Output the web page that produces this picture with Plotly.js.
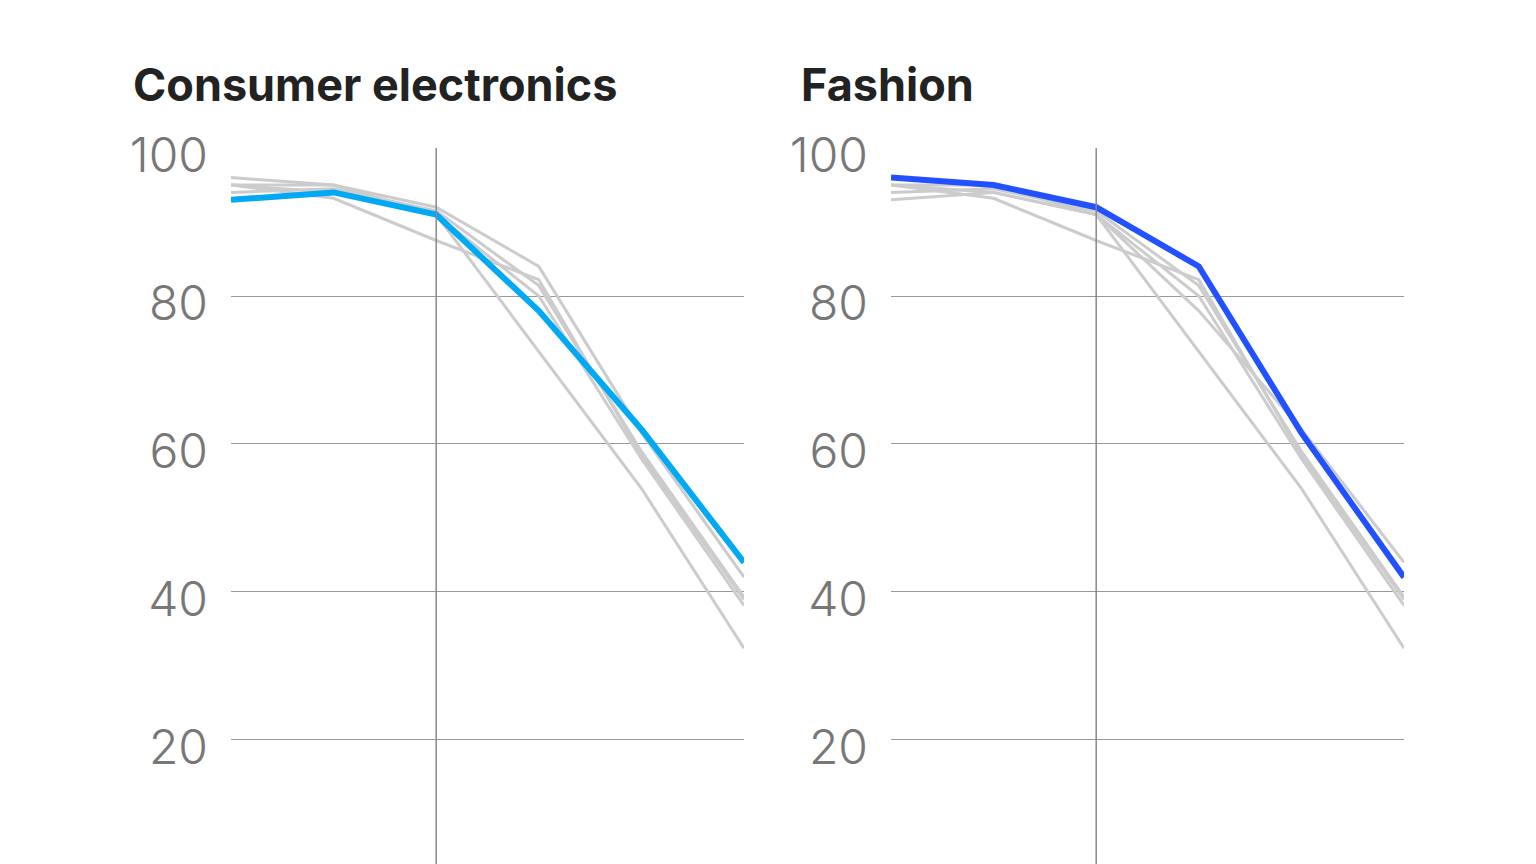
<!DOCTYPE html>
<html>
<head>
<meta charset="utf-8">
<script src="https://cdn.plot.ly/plotly-3.0.1.min.js"></script>
<style>html,body{margin:0;padding:0;background:#fff;}#chart{width:1536px;height:864px;}</style>
</head>
<body>
<div id="chart"></div>
<script>
// Data
const xPoints = [0, 1, 2, 3, 4, 5];
const panelTitles = ["Consumer electronics", "Fashion"];
const consumerElectronics = [93, 94, 91, 78, 62, 44];
const fashion = [96, 95, 92, 84, 61.5, 42];
const otherA = [95, 93.2, 87.5, 82.2, 58.5, 39];
const otherB = [94, 94.5, 91.5, 81.4, 59, 39.3];
const otherC = [95, 95, 91, 80, 58, 38.2];
const otherD = [95, 94, 91, 72.5, 54, 32.4];
const yTicks = [20, 40, 60, 80, 100];
const markerX = 2;

const grayColor = "#cccccc";
const others = [otherA, otherB, otherC, otherD];

function grayTrace(y, xa, ya) {
  return {x: xPoints, y: y, xaxis: xa, yaxis: ya, mode: "lines", type: "scatter",
    line: {color: grayColor, width: 3}, hoverinfo: "skip", showlegend: false};
}
const traces = [];
// Left panel: others + fashion in gray, CE highlighted
others.forEach(s => traces.push(grayTrace(s, "x", "y")));
traces.push(grayTrace(fashion, "x", "y"));
traces.push({x: xPoints, y: consumerElectronics, xaxis: "x", yaxis: "y", mode: "lines", type: "scatter",
  line: {color: "#00a9f4", width: 6}, showlegend: false});
// Right panel: others + CE in gray, fashion highlighted
others.forEach(s => traces.push(grayTrace(s, "x2", "y2")));
traces.push(grayTrace(consumerElectronics, "x2", "y2"));
traces.push({x: xPoints, y: fashion, xaxis: "x2", yaxis: "y2", mode: "lines", type: "scatter",
  line: {color: "#2251ff", width: 6}, showlegend: false});

const yaxisBase = {range: [3.24, 100], tickvals: yTicks, showgrid: true, gridcolor: "#999999", gridwidth: 1,
  zeroline: false, showline: false, ticks: "", ticklabelstandoff: 22, ticklabelshift: 7,
  tickfont: {family: "Inter, 'Liberation Sans', sans-serif", size: 48, color: "#777777", weight: 300}};
const xaxisBase = {range: [0, 5], showgrid: false, zeroline: false, showline: false, showticklabels: false, ticks: ""};

const layout = {
  width: 1536, height: 864,
  margin: {l: 0, r: 0, t: 148, b: 0},
  paper_bgcolor: "#ffffff", plot_bgcolor: "#ffffff",
  xaxis: Object.assign({}, xaxisBase, {domain: [231/1536, 744/1536]}),
  xaxis2: Object.assign({}, xaxisBase, {domain: [891/1536, 1404/1536], anchor: "y2"}),
  yaxis: Object.assign({}, yaxisBase, {anchor: "x"}),
  yaxis2: Object.assign({}, yaxisBase, {anchor: "x2"}),
  shapes: [
    {type: "line", xref: "x", yref: "y domain", x0: markerX, x1: markerX, y0: 0, y1: 1, line: {color: "#888888", width: 1.5}},
    {type: "line", xref: "x2", yref: "y2 domain", x0: markerX, x1: markerX, y0: 0, y1: 1, line: {color: "#888888", width: 1.5}}
  ],
  annotations: [
    {text: panelTitles[0], xref: "paper", yref: "paper", x: 131/1536, y: 1.088, xanchor: "left", yanchor: "middle",
      showarrow: false, font: {family: "Inter, 'Liberation Sans', sans-serif", size: 45, color: "#222222", weight: 700}},
    {text: panelTitles[1], xref: "paper", yref: "paper", x: 799/1536, y: 1.088, xanchor: "left", yanchor: "middle",
      showarrow: false, font: {family: "Inter, 'Liberation Sans', sans-serif", size: 45, color: "#222222", weight: 700}}
  ]
};
Plotly.newPlot("chart", traces, layout, {displayModeBar: false, staticPlot: true});
</script>
</body>
</html>
